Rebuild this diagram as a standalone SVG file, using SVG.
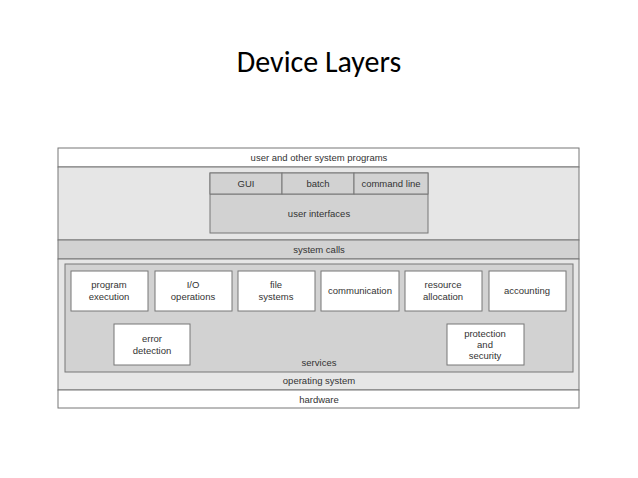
<svg xmlns="http://www.w3.org/2000/svg" width="638" height="478" viewBox="0 0 638 478">
<style>
text{font-family:"Liberation Sans",Arial,sans-serif;font-size:9.5px;fill:#333;text-anchor:middle}
.t{font-family:Calibri,Carlito,"Liberation Sans",sans-serif;font-size:30px;fill:#000}
.w{fill:#fff;stroke:#777;stroke-width:1}
.l{fill:#e6e6e6;stroke:#777;stroke-width:1}
.d{fill:#d2d2d2;stroke:#777;stroke-width:1}
</style>
<rect width="638" height="478" fill="#fff"/>
<text class="t" x="319" y="72">Device Layers</text>
<g id="programs"><rect class="w" x="58" y="148" width="521" height="19"/><text x="319" y="161">user and other system programs</text></g>
<g id="uilayer"><rect class="l" x="58" y="167" width="521" height="73"/></g>
<g id="ui"><rect class="d" x="210" y="173" width="218" height="60"/><line x1="210" y1="194" x2="428" y2="194" stroke="#777"/><text x="319" y="217">user interfaces</text></g>
<g id="gui"><rect class="d" x="210" y="173" width="72" height="21"/><text x="246" y="187">GUI</text></g>
<g id="batch"><rect class="d" x="282" y="173" width="72" height="21"/><text x="318" y="187">batch</text></g>
<g id="cmd"><rect class="d" x="354" y="173" width="74" height="21"/><text x="391" y="187">command line</text></g>
<g id="syscalls"><rect class="d" x="58" y="240" width="521" height="19"/><text x="319" y="253">system calls</text></g>
<g id="os"><rect class="l" x="58" y="259" width="521" height="131"/><text x="319" y="384">operating system</text></g>
<g id="services"><rect class="d" x="65" y="264" width="508" height="108"/><text x="319" y="366">services</text></g>
<g id="pe"><rect class="w" x="71" y="271" width="77" height="40"/><text x="109" y="288">program</text><text x="109" y="300">execution</text></g>
<g id="io"><rect class="w" x="155" y="271" width="77" height="40"/><text x="193" y="288">I/O</text><text x="193" y="300">operations</text></g>
<g id="fs"><rect class="w" x="238" y="271" width="77" height="40"/><text x="276" y="288">file</text><text x="276" y="300">systems</text></g>
<g id="comm"><rect class="w" x="321" y="271" width="78" height="40"/><text x="360" y="294">communication</text></g>
<g id="ra"><rect class="w" x="405" y="271" width="77" height="40"/><text x="443" y="288">resource</text><text x="443" y="300">allocation</text></g>
<g id="acct"><rect class="w" x="489" y="271" width="77" height="40"/><text x="527" y="294">accounting</text></g>
<g id="err"><rect class="w" x="114" y="324" width="76" height="41"/><text x="152" y="342">error</text><text x="152" y="354">detection</text></g>
<g id="prot"><rect class="w" x="447" y="324" width="77" height="41"/><text x="485" y="337">protection</text><text x="485" y="348">and</text><text x="485" y="359">security</text></g>
<g id="hw"><rect class="w" x="58" y="390" width="521" height="18"/><text x="319" y="403">hardware</text></g>
<g id="connectors"></g>
</svg>
